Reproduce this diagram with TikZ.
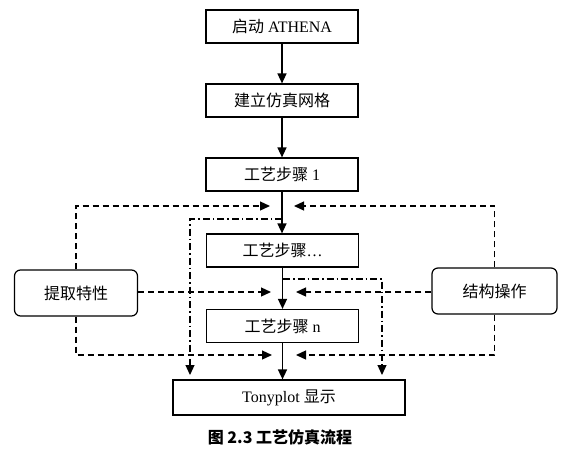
\documentclass[tikz,border=0pt]{standalone}
\usepackage{fontspec}
\setmainfont{Liberation Serif}
\newfontfamily\cjk{Noto Sans CJK SC}
\usetikzlibrary{calc, positioning, arrows.meta}

\begin{document}
\begin{tikzpicture}[x=1pt,y=-1pt,thick,>={Triangle[length=10pt,width=9pt]},
                    step node/.style={rectangle,draw,line width=1.2pt,minimum width=152pt,minimum height=33pt,font=\fontsize{16}{18}\selectfont},
                    side node/.style={rectangle,rounded corners=6pt,draw,line width=1.2pt,minimum width=123pt,minimum height=46pt,font=\fontsize{16}{18}\selectfont},
                    flow/.style={->,line width=1.5pt},
                    feed/.style={->,line width=1.3pt,dash pattern=on 6pt off 4pt},
                    skip/.style={->,line width=1.2pt,dash pattern=on 7pt off 3pt on 1.5pt off 3pt}]
 \useasboundingbox (0,0) rectangle (584,451);

%Main steps
 \node[step node] (start) at (282,26.5) {{\cjk 启动} ATHENA};
 \node[step node] (mesh) at (282,100.5) {\cjk 建立仿真网格};
 \node[step node] (step1) at (282,174.5) {{\cjk 工艺步骤} 1};
 \node[step node] (stepdots) at (282.5,250.5) {{\cjk 工艺步骤}\ldots};
 \node[step node] (stepn) at (282.5,326) {{\cjk 工艺步骤} n};
 \node[step node,minimum width=232pt,minimum height=35pt] (plot) at (289,397.5) {Tonyplot {\cjk 显示}};

 \foreach \a/\b in {start/mesh,mesh/step1,step1/stepdots,stepdots/stepn,stepn/plot}
   \draw[flow] (\a.south) -- (\a.south |- \b.north);

%Side boxes
 \node[side node] (extract) at (76,293) {\cjk 提取特性};
 \node[side node,minimum width=125pt] (struct) at (494.5,291) {\cjk 结构操作};

%Dashed feedback lines
 \coordinate (inA) at (270,206);
 \coordinate (inB) at (294,206);
 \coordinate (inC) at (271,292);
 \coordinate (inD) at (296,292);
 \coordinate (inE) at (272,355);
 \coordinate (inF) at (296,355);

 \draw[feed] (extract.north) |- (inA);
 \draw[feed] (struct.north) |- (inB);
 \draw[feed] (extract.east |- inC) -- (inC);
 \draw[feed] (struct.west |- inD) -- (inD);
 \draw[feed] (extract.south) |- (inE);
 \draw[feed] (struct.south) |- (inF);

%Dash-dot jumps to the plot
 \coordinate (skipA) at (282,219);
 \coordinate (skipAend) at (190,375);
 \coordinate (skipB) at (283,279);
 \coordinate (skipBend) at (382,375);

 \draw[skip] (skipA) -| (skipAend);
 \draw[skip] (skipB) -| (skipBend);

%Caption
 \node[font=\fontsize{16}{18}\selectfont] (caption) at (280,437) {\cjk\bfseries 图 2.3 工艺仿真流程};
\end{tikzpicture}
\end{document}
